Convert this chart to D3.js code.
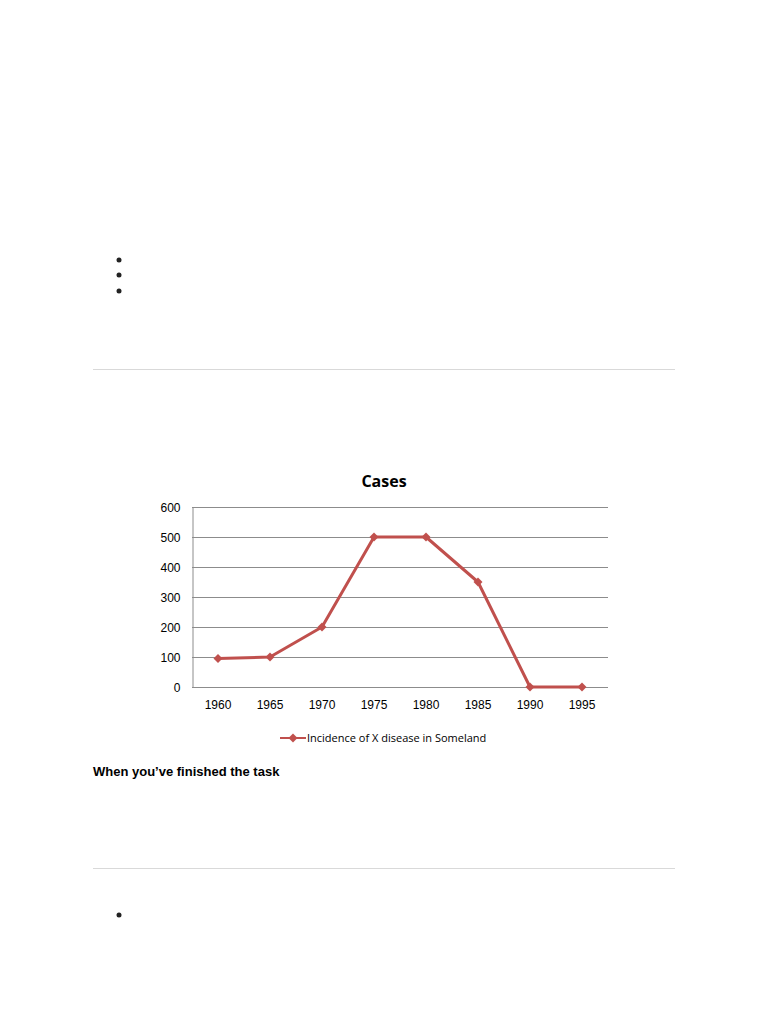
<!DOCTYPE html>
<head>
  <meta charset="utf-8">
  <style>
    body { margin: 0; background: white; }
    svg { display: block; font-family: 'Open Sans', sans-serif; }
    .tick text { font-size: 12px; fill: #000; }
    .title { font-size: 16px; font-weight: bold; }
    .legend { font-size: 11px; }
    .page-note { font-family: 'Liberation Sans', Arial, sans-serif; font-size: 13px; font-weight: bold; }
  </style>
</head>
<body>
<script src="https://cdnjs.cloudflare.com/ajax/libs/d3/7.8.5/d3.min.js"></script>
<script>
  // DATA
  const years = ['1960', '1965', '1970', '1975', '1980', '1985', '1990', '1995'];
  const cases = [95, 100, 200, 500, 500, 350, 0, 0];
  const yTicks = [0, 100, 200, 300, 400, 500, 600];
  const seriesName = 'Incidence of X disease in Someland';

  // DIMENSIONS
  const width = 768, height = 1024;
  const plot = {left: 192, right: 608, top: 507, bottom: 687};
  const red = '#c0504d';

  const svg = d3.select('body').append('svg')
    .attr('width', width)
    .attr('height', height);

  // page decorations around the chart
  const bulletYs = [260, 275, 291, 915];
  svg.selectAll('.bullet').data(bulletYs).join('circle')
    .attr('class', 'bullet')
    .attr('cx', 119).attr('cy', d => d).attr('r', 2.5)
    .attr('fill', '#222');

  [369, 868].forEach(y => {
    svg.append('line')
      .attr('x1', 93).attr('x2', 675).attr('y1', y + 0.5).attr('y2', y + 0.5)
      .attr('stroke', '#d9d9d9').attr('stroke-width', 1);
  });

  svg.append('text')
    .attr('class', 'page-note')
    .attr('x', 93).attr('y', 776)
    .text('When you\u2019ve finished the task');

  // SCALES
  const x = d3.scaleBand(years, [plot.left, plot.right]);
  const y = d3.scaleLinear([0, 600], [plot.bottom, plot.top]);

  // GRIDLINES
  svg.append('g')
    .selectAll('line').data(yTicks).join('line')
    .attr('x1', plot.left).attr('x2', plot.right)
    .attr('y1', d => Math.round(y(d)) + 0.5).attr('y2', d => Math.round(y(d)) + 0.5)
    .attr('stroke', '#8c8c8c');

  // AXES
  const yAxis = svg.append('g')
    .attr('transform', `translate(${plot.left + 0.5},0.5)`)
    .call(d3.axisLeft(y).tickValues(yTicks).tickSize(0).tickPadding(12));
  yAxis.select('.domain').attr('stroke', '#8c8c8c');

  const xAxis = svg.append('g')
    .attr('transform', `translate(0,${plot.bottom})`)
    .call(d3.axisBottom(x).tickSize(0).tickPadding(13));
  xAxis.select('.domain').remove();

  // LINE
  const line = d3.line()
    .x((d, i) => x(years[i]) + x.bandwidth() / 2)
    .y(d => y(d));

  svg.append('path')
    .datum(cases)
    .attr('d', line)
    .attr('fill', 'none')
    .attr('stroke', red)
    .attr('stroke-width', 3)
    .attr('stroke-linejoin', 'round');

  const diamond = d3.symbol(d3.symbolSquare, 40);
  svg.selectAll('.marker').data(cases).join('path')
    .attr('class', 'marker')
    .attr('d', diamond)
    .attr('transform', (d, i) => `translate(${x(years[i]) + x.bandwidth() / 2},${y(d)}) rotate(45)`)
    .attr('fill', red);

  // TITLE
  svg.append('text')
    .attr('class', 'title')
    .attr('x', 384).attr('y', 487)
    .attr('text-anchor', 'middle')
    .text('Cases');

  // LEGEND
  const legend = svg.append('g').attr('transform', 'translate(280,738)');
  legend.append('line')
    .attr('x1', 0).attr('x2', 26)
    .attr('stroke', red).attr('stroke-width', 2);
  legend.append('path')
    .attr('d', diamond)
    .attr('transform', 'translate(13,0) rotate(45)')
    .attr('fill', red);
  legend.append('text')
    .attr('class', 'legend')
    .attr('x', 27).attr('y', 4)
    .text(seriesName);
</script>
</body>
